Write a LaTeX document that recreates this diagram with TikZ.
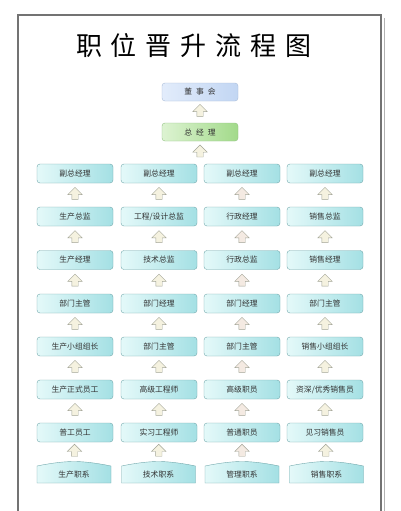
\documentclass[tikz,border=0pt]{standalone}
\usepackage{fontspec}
\newfontfamily\cjk{Noto Sans CJK SC}
\usepackage{xcolor}
\usetikzlibrary{shapes}
\usetikzlibrary{shapes.arrows}
\usetikzlibrary{calc}
\usetikzlibrary{positioning}

\definecolor{boxleft}{HTML}{E4F9F9}
\definecolor{boxright}{HTML}{A4E0E4}
\definecolor{boxline}{HTML}{72A8AC}
\definecolor{arrowfill}{HTML}{F5F2E0}
\definecolor{arrowpink}{HTML}{F4EAE2}
\definecolor{arrowline}{HTML}{A2A496}
\definecolor{boardleft}{HTML}{E2ECFB}
\definecolor{boardright}{HTML}{C2D6F3}
\definecolor{boardline}{HTML}{A9BCD8}
\definecolor{ceoleft}{HTML}{DDF3D2}
\definecolor{ceoright}{HTML}{A2DA8A}
\definecolor{ceoline}{HTML}{92C283}

\newcommand{\gap}{\hspace{4pt}}
\newcommand{\tgap}{\hspace{9pt}}

\begin{document}
\begin{tikzpicture}[x=1pt, y=-1pt,
  post/.style={draw=boxline, rounded corners=3pt, left color=boxleft, right color=boxright,
    minimum width=76pt, minimum height=19pt, inner sep=0pt,
    font=\cjk\fontsize{7.8}{9}\selectfont, text=black!80},
  family/.style={minimum width=74pt, minimum height=17pt, inner sep=0pt,
    font=\cjk\fontsize{7.8}{9}\selectfont, text=black!80},
  up/.style={single arrow, shape border rotate=90, draw=arrowline, fill=arrowfill,
    minimum height=12pt, single arrow head extend=4pt, inner sep=3pt}]
  \clip (0,0) rectangle (400,511);
  \useasboundingbox (0,0) rectangle (400,511);
  \fill[white] (0,0) rectangle (400,511);

  % frame
  \draw[black!30, line width=0.8pt] (384,18) -- (384,530);
  \draw[black!55, line width=1.3pt] (18,15) rectangle (381,530);

  \node[font=\cjk\fontsize{26}{26}\selectfont] (title) at (194,46)
    {职\tgap 位\tgap 晋\tgap 升\tgap 流\tgap 程\tgap 图};

  % top of the ladder
  \node[post, draw=boardline, left color=boardleft, right color=boardright, minimum height=18pt]
    (board) at (200,92) {董\gap 事\gap 会};
  \node[post, draw=ceoline, left color=ceoleft, right color=ceoright, minimum height=18pt]
    (ceo) at (200,132) {总\gap 经\gap 理};
  \node[up] at ($(board.south)!0.5!(ceo.north)$) {};

  % the seven rows of posts
  \foreach \r/\y/\a/\b/\c/\d in {
    1/173.5/副总经理/副总经理/副总经理/副总经理,
    2/216.5/生产总监/{工程/设计总监}/行政经理/销售总监,
    3/260/生产经理/技术总监/行政总监/销售经理,
    4/303.5/部门主管/部门经理/部门经理/部门主管,
    5/346.5/生产小组组长/部门主管/部门主管/销售小组组长,
    6/389.5/生产正式员工/高级工程师/高级职员/{资深/优秀销售员},
    7/432.5/普工员工/实习工程师/普通职员/见习销售员} {
    \node[post] (p\r-1) at (75,\y) {\a};
    \node[post] (p\r-2) at (159,\y) {\b};
    \node[post] (p\r-3) at (242,\y) {\c};
    \node[post] (p\r-4) at (325,\y) {\d};
  }

  % the four job families
  \foreach \c/\x/\t in {1/74/生产职系, 2/158.5/技术职系, 3/242/管理职系, 4/326.5/销售职系} {
    \shade[draw=boxline, left color=boxleft, right color=boxright]
      (\x-37,483) -- (\x-37,466) .. controls (\x-20,462.5) and (\x-8,461.5) .. (\x,461.5)
      .. controls (\x+8,461.5) and (\x+20,462.5) .. (\x+37,466) -- (\x+37,483) -- cycle;
    \coordinate (t\c) at (\x,461.5);
    \node[family] (f\c) at (\x,474.5) {\t};
  }

  % arrows
  \coordinate (ceotop) at (200,164);
  \node[up] at ($(ceo.south)!0.5!(ceotop)$) {};
  \foreach \r in {1,...,6} {
    \pgfmathtruncatemacro{\s}{\r+1}
    \foreach \c in {1,2,4}
      \node[up] at ($(p\s-\c.north)!0.5!(p\r-\c.south)$) {};
    \node[up, fill=arrowpink] at ($(p\s-3.north)!0.5!(p\r-3.south)$) {};
  }
  \foreach \c in {1,2,4}
    \node[up] at ($(t\c)!0.5!(p7-\c.south)$) {};
  \node[up, fill=arrowpink] at ($(t3)!0.5!(p7-3.south)$) {};
\end{tikzpicture}
\end{document}
